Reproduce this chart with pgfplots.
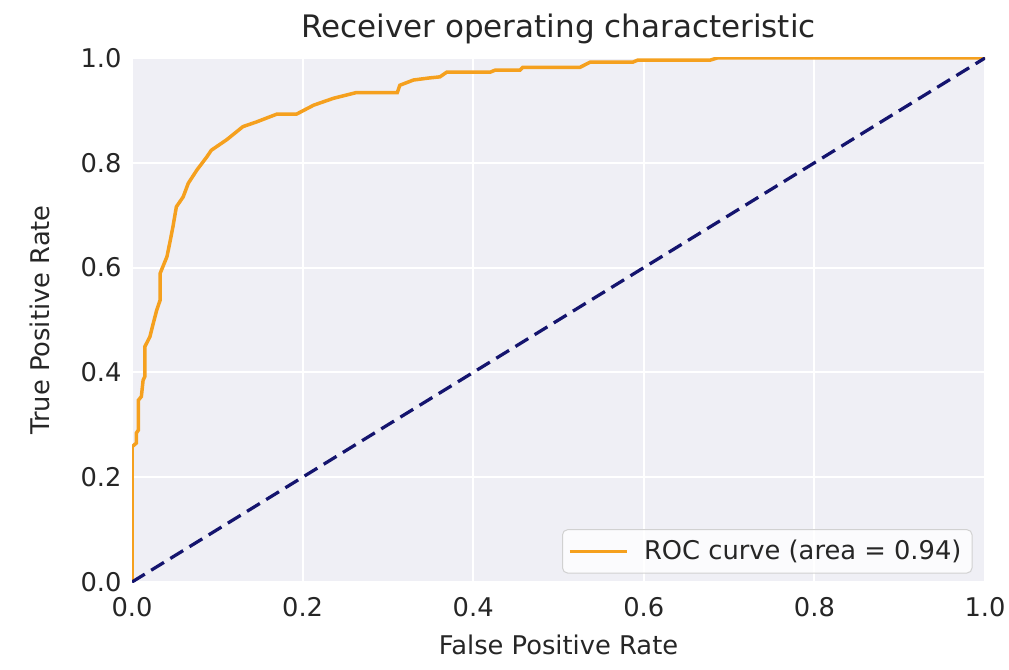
\documentclass[border=0pt]{standalone}
\usepackage{fontspec}
\setmainfont{DejaVu Sans}
\usepackage{pgfplots}
\pgfplotsset{compat=1.18}

\definecolor{bgc}{HTML}{EFEFF5}
\definecolor{roc}{HTML}{F5A01E}
\definecolor{nv}{HTML}{14146E}
\definecolor{txt}{HTML}{262626}

\begin{document}
\begin{tikzpicture}[font=\fontsize{10.3}{12}\selectfont]
\begin{axis}[
  name=ax, at={(0,0)}, anchor=south west,
  scale only axis, width=341.2pt, height=209.6pt,
  xmin=0, xmax=1, ymin=0, ymax=1,
  axis background/.style={fill=bgc},
  axis line style={draw=none},
  major tick length=0pt,
  grid=major, grid style={white, line width=0.8pt},
  xtick={0,0.2,0.4,0.6,0.8,1}, ytick={0,0.2,0.4,0.6,0.8,1},
  xticklabels={0.0,0.2,0.4,0.6,0.8,1.0},
  yticklabels={0.0,0.2,0.4,0.6,0.8,1.0},
  xticklabel style={anchor=base, inner sep=0pt, yshift=-13.6pt, text=txt},
  yticklabel style={anchor=east, inner sep=0pt, xshift=-4pt, text=txt},
  title={Receiver operating characteristic},
  every axis title shift=0pt,
  title style={at={(0.5,1)}, anchor=base, yshift=8pt, inner sep=0pt,
    font=\fontsize{12.4}{14}\selectfont, text=txt},
  xlabel={False Positive Rate},
  xlabel style={at={(0.5,0)}, anchor=base, yshift=-28.8pt, inner sep=0pt, text=txt},
  ylabel={True Positive Rate},
  ylabel style={at={(0,0.5)}, anchor=base, yshift=32.8pt, inner sep=0pt, text=txt},
  legend style={at={(1,0)}, anchor=south east, xshift=-5pt, yshift=3.4pt,
    fill=white, fill opacity=0.8, text opacity=1, draw opacity=1,
    draw=black!18, rounded corners=2pt, inner xsep=2.2pt, inner ysep=2pt,
    column sep=4pt, text=txt},
  legend cell align=left,
  legend image code/.code={\draw[#1] (0pt,0pt) -- (23pt,0pt);},
]
\addplot[roc, line width=1.4pt] coordinates {
  (0,0) (0,0.258) (0.005,0.265) (0.005,0.284) (0.0075,0.29) (0.0075,0.347)
  (0.011,0.354) (0.013,0.385) (0.015,0.392) (0.015,0.449) (0.021,0.468)
  (0.025,0.494) (0.029,0.519) (0.033,0.538) (0.033,0.589) (0.041,0.621)
  (0.045,0.653) (0.048,0.678) (0.052,0.716) (0.060,0.735) (0.066,0.761)
  (0.076,0.786) (0.088,0.812) (0.093,0.824) (0.111,0.844) (0.130,0.869)
  (0.146,0.878) (0.170,0.893) (0.193,0.893) (0.213,0.910) (0.236,0.923)
  (0.263,0.934) (0.311,0.934) (0.314,0.948) (0.330,0.958) (0.349,0.962)
  (0.361,0.964) (0.369,0.973) (0.420,0.973) (0.426,0.977) (0.455,0.977)
  (0.458,0.982) (0.525,0.982) (0.537,0.992) (0.587,0.992) (0.593,0.996)
  (0.678,0.996) (0.686,1.0) (1,1)
};
\addlegendentry{ROC curve (area = 0.94)}
\addplot[nv, line width=1.3pt, dash pattern=on 6pt off 3pt, forget plot] coordinates {
  (0,0) (1,1)
};
\end{axis}
\pgfresetboundingbox
\useasboundingbox (-52.8pt,-34.8pt) rectangle (350.8pt,232.8pt);
\end{tikzpicture}
\end{document}
